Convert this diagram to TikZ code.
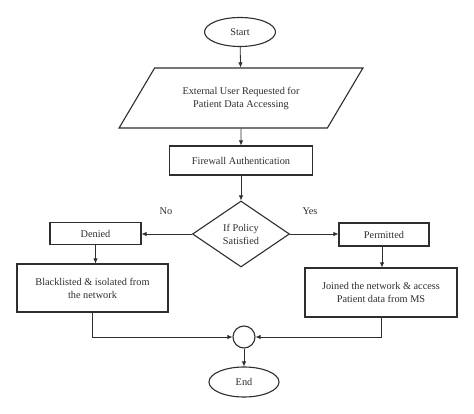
\documentclass[tikz,border=0pt]{standalone}
\usepackage{fontspec}
\setmainfont{Liberation Serif}
\usetikzlibrary{shapes.geometric,arrows.meta}
\definecolor{ln}{HTML}{2E2E2E}
\tikzset{
  base/.style={draw=ln, line width=1.1pt, text=ln, align=center, font=\fontsize{10.3}{13}\selectfont, inner sep=1pt},
  term/.style={base, ellipse, minimum width=71pt, minimum height=29pt},
  box/.style={base, rectangle},
  io/.style={base, trapezium, trapezium left angle=45, trapezium right angle=135, trapezium stretches=true, minimum width=244pt, minimum height=60pt},
  dec/.style={base, diamond, minimum width=97pt, minimum height=66pt, inner sep=0pt},
  junc/.style={draw=ln, line width=1.1pt, circle, minimum size=22pt, inner sep=0pt},
  lbl/.style={text=ln, font=\fontsize{10.3}{12}\selectfont},
  conn/.style={draw=ln, line width=0.8pt, -{Latex[length=5pt,width=4.5pt]}}
}
\begin{document}
\begin{tikzpicture}[x=1pt,y=-1pt]
\useasboundingbox[fill=white] (0,0) rectangle (474,414);
\node[term] (start) at (240,32) {Start};
\node[io] (ext) at (241,98) {External User Requested for\\Patient Data Accessing};
\node[box, minimum width=143pt, minimum height=29pt] (fw) at (241,160.5) {Firewall Authentication};
\node[dec] (pol) at (241,234) {If Policy\\Satisfied};
\node[box, minimum width=91pt, minimum height=22pt] (den) at (95.5,233.5) {Denied};
\node[box, minimum width=90pt, minimum height=23pt] (per) at (384,234.5) {Permitted};
\node[box, minimum width=151pt, minimum height=48pt] (bl) at (92.5,288) {Blacklisted \& isolated from\\the network};
\node[box, minimum width=152pt, minimum height=49pt] (jn) at (381,292.5) {Joined the network \& access\\Patient data from MS};
\node[junc] (cj) at (244,337) {};
\node[term, minimum width=70pt, minimum height=30pt] (end) at (244,382) {End};
\node[lbl] (no) at (166,211) {No};
\node[lbl] (yes) at (310,211) {Yes};
\draw[conn] (start) -- (ext);
\draw[conn] (ext) -- (fw);
\draw[conn] (fw) -- (pol);
\draw[conn] (pol.west) -- (pol.west -| den.east);
\draw[conn] (pol.east) -- (pol.east -| per.west);
\draw[conn] (den.south) -- (den.south |- bl.north);
\draw[conn] ([xshift=-2pt]per.south) -- ([xshift=-2pt]per.south |- jn.north);
\draw[conn] (bl.south) |- (cj.west);
\draw[conn] (jn.south) |- (cj.east);
\draw[conn] (cj) -- (end);
\end{tikzpicture}
\end{document}
